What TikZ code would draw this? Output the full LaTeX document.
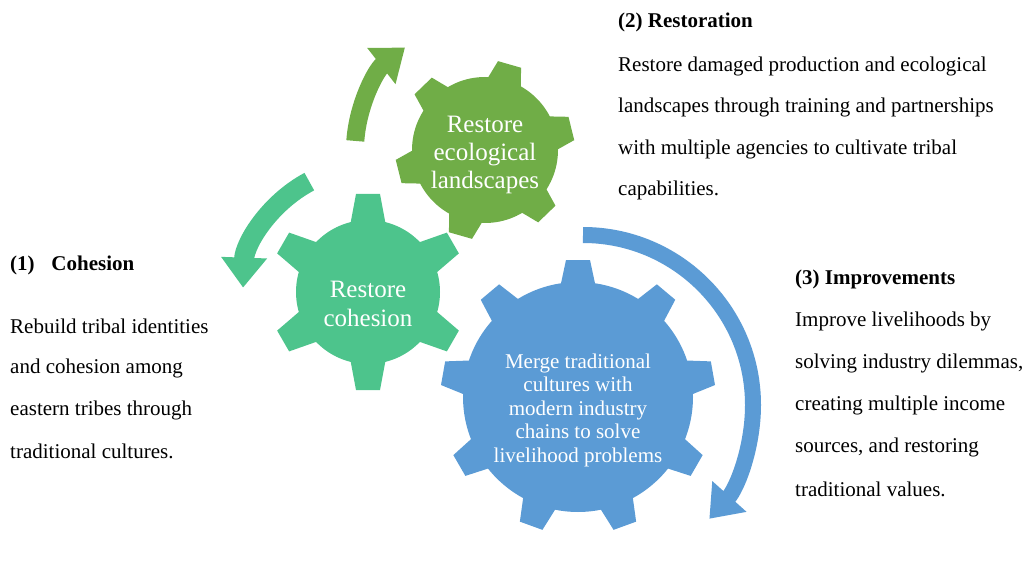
\documentclass[tikz,border=0pt]{standalone}
\usepackage{fontspec}
\setmainfont{Liberation Serif}
\usetikzlibrary{arrows.meta}
\definecolor{cohgreen}{HTML}{4DC48C}
\definecolor{ecogreen}{HTML}{70AD47}
\definecolor{indblue}{HTML}{5B9BD5}
\tikzset{
    % text beside the gears
    note/.style={anchor=west, inner sep=0pt, font=\fontsize{21}{24}\selectfont},
    head/.style={note, font=\fontsize{21}{24}\selectfont\bfseries},
    % labels on the gears
    gearlabel/.style={text=white, align=center, inner sep=0pt},
    % curved arrows
    turn/.style={line width=#1, -{Triangle[length=30pt,width=44pt]}},
}
% \gear{x}{y}{inner r}{outer r}{teeth}{first angle}{colour}
\newcommand\gear[7]{%
  \fill[#7] (#1,#2) circle (#3);
  \foreach \k in {1,...,#5}{
    \begin{scope}[shift={(#1,#2)}, rotate={#6+360/#5*\k}]
      \fill[#7] (#3-6,-18) -- (#4,-12) -- (#4,12) -- (#3-6,18) -- cycle;
    \end{scope}}}
\begin{document}
\begin{tikzpicture}[x=1pt,y=-1pt]
\useasboundingbox (0,0) rectangle (1025,564);
% gears
\gear{485}{150}{73}{89}{6}{14}{ecogreen}
\gear{368}{292}{72}{98}{6}{90}{cohgreen}
\gear{578}{397}{115}{137}{9}{90}{indblue}
\node[gearlabel, font=\fontsize{25}{28}\selectfont] (eco) at (485,155) {Restore\\ecological\\landscapes};
\node[gearlabel, font=\fontsize{25}{29}\selectfont] (coh) at (368,304) {Restore\\cohesion};
\node[gearlabel, font=\fontsize{21}{23.5}\selectfont] (ind) at (578,410) {Merge traditional\\cultures with\\modern industry\\chains to solve\\livelihood problems};
% arrows
\coordinate (c1) at (368,292);
\coordinate (c2) at (485,150);
\coordinate (c3) at (583,405);
\draw[turn=20pt, cohgreen] ([shift={(-118:125)}]c1) arc[start angle=-118, end angle=-178, radius=125];
\draw[turn=18pt, ecogreen] ([shift={(-176:130)}]c2) arc[start angle=-176, end angle=-128, radius=130];
\draw[turn=16pt, indblue] ([shift={(-90:170)}]c3) arc[start angle=-90, end angle=42, radius=170];
% texts
\node[head] (h2) at (618,22) {(2) Restoration};
\node[note] (t21) at (618,66) {Restore damaged production and ecological};
\node[note] (t22) at (618,107) {landscapes through training and partnerships};
\node[note] (t23) at (618,149) {with multiple agencies to cultivate tribal};
\node[note] (t24) at (618,190) {capabilities.};
\node[head] (h1) at (10,265) {(1)\hspace{0.8em}Cohesion};
\node[note] (t11) at (10,326) {Rebuild tribal identities};
\node[note] (t12) at (10,368) {and cohesion among};
\node[note] (t13) at (10,410) {eastern tribes through};
\node[note] (t14) at (10,451) {traditional cultures.};
\node[head] (h3) at (795,279) {(3) Improvements};
\node[note] (t31) at (795,321) {Improve livelihoods by};
\node[note] (t32) at (795,363) {solving industry dilemmas,};
\node[note] (t33) at (795,405) {creating multiple income};
\node[note] (t34) at (795,447) {sources, and restoring};
\node[note] (t35) at (795,489) {traditional values.};
\end{tikzpicture}
\end{document}
